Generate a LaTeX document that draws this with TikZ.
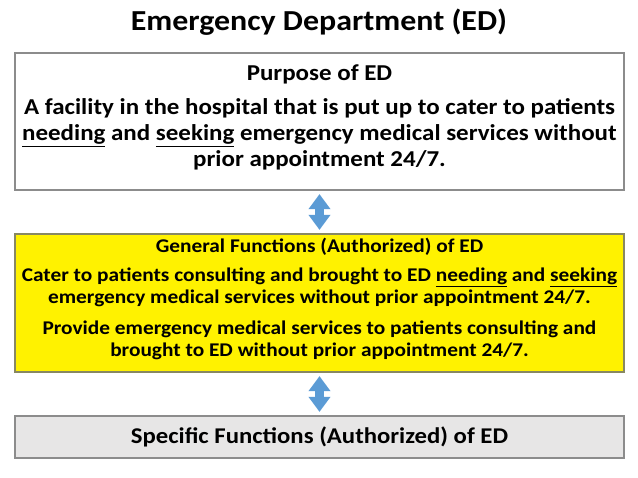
\documentclass[tikz,border=0pt]{standalone}
\usepackage{fontspec}
\setmainfont[FakeStretch=1.1]{Carlito}
\usetikzlibrary{arrows.meta}
\definecolor{edblue}{HTML}{5B9BD5}
\definecolor{edgrey}{HTML}{E7E6E6}
\definecolor{edline}{HTML}{8C8C8C}
\tikzset{
  box/.style={draw=edline, line width=1.2pt, minimum width=609pt, inner sep=0pt},
  boxtext/.style={align=center, inner sep=0pt},
  link/.style={draw=edblue, line width=9pt, {Triangle[width=21pt,length=15pt]}-{Triangle[width=21pt,length=15pt]}, shorten >=3.5pt, shorten <=3.5pt}
}
\begin{document}
\begin{tikzpicture}[x=1pt, y=-1pt]
            \useasboundingbox (0,0) rectangle (638,478);
            \node[font=\fontsize{29}{34}\selectfont\bfseries] (title) at (319, 22) {Emergency Department (ED)};
            % boxes
            \node[box, minimum height=137pt] (purpose) at (319.5, 121.5) {};
            \node[box, fill=yellow, draw=edline!70!olive, minimum height=138pt] (general) at (319.5, 303) {};
            \node[box, fill=edgrey, minimum height=42pt] (specific) at (319.5, 437) {};
            % texts
            \node[boxtext, font=\fontsize{22.7}{26}\selectfont\bfseries] (purposetext) at ([yshift=4pt]purpose.center)
                {Purpose of ED\\[8pt]
                 A facility in the hospital that is put up to cater to patients\\
                 \underline{needing} and \underline{seeking} emergency medical services without\\
                 prior appointment 24/7.};
            \node[boxtext, font=\fontsize{19.4}{22.5}\selectfont\bfseries] (generaltext) at ([yshift=4pt]general.center)
                {General Functions (Authorized) of ED\\[6pt]
                 Cater to patients consulting and brought to ED \underline{needing} and \underline{seeking}\\
                 emergency medical services without prior appointment 24/7.\\[8pt]
                 Provide emergency medical services to patients consulting and\\
                 brought to ED without prior appointment 24/7.};
            \node[boxtext, font=\fontsize{22.5}{26}\selectfont\bfseries] (specifictext) at (specific.center)
                {Specific Functions (Authorized) of ED};
            % arrows
            \draw[link] (purpose.south) -- (general.north);
            \draw[link] (general.south) -- (specific.north);
        \end{tikzpicture}
\end{document}
